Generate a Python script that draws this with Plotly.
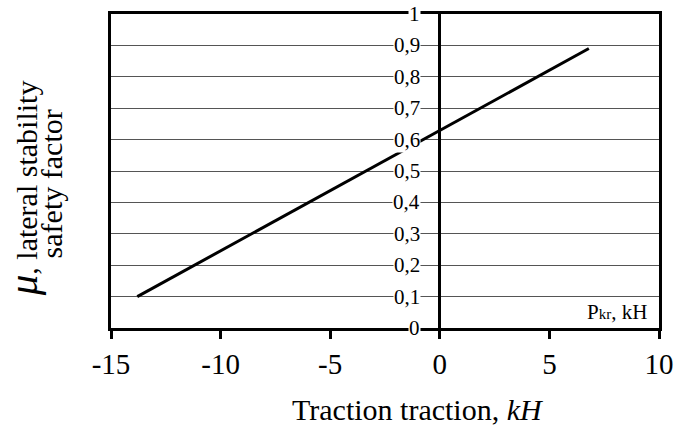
import plotly.graph_objects as go

# Data
line_x = [-13.8, 6.8]
line_y = [0.10, 0.89]
x_ticks = [-15, -10, -5, 0, 5, 10]
x_tick_labels = ["-15", "-10", "-5", "0", "5", "10"]
y_ticks = [0, 0.1, 0.2, 0.3, 0.4, 0.5, 0.6, 0.7, 0.8, 0.9, 1.0]
y_tick_labels = ["0", "0,1", "0,2", "0,3", "0,4", "0,5", "0,6", "0,7", "0,8", "0,9", "1"]
y_title_lines = ["<span style=\"font-size:41px\"><i>μ</i></span>, lateral stability",
                 "safety factor"]

FONT = "Liberation Serif"

fig = go.Figure()
fig.add_trace(go.Scatter(x=line_x, y=line_y, mode="lines",
                         line=dict(color="black", width=3), showlegend=False,
                         hoverinfo="skip"))

fig.update_layout(
    width=685, height=430,
    margin=dict(l=111, r=23, t=11, b=102),
    plot_bgcolor="white", paper_bgcolor="white",
    font=dict(family=FONT, color="black"),
    xaxis=dict(range=[-15, 10], tickvals=x_ticks, ticktext=x_tick_labels,
               ticks="outside", ticklen=8, tickwidth=3, tickcolor="black",
               showline=True, linecolor="black", linewidth=3, mirror=True,
               showgrid=False, zeroline=True, zerolinecolor="black",
               zerolinewidth=3, tickfont=dict(size=29, family=FONT),
               fixedrange=True),
    yaxis=dict(range=[0, 1], tickvals=y_ticks, showticklabels=False,
               showline=True, linecolor="black", linewidth=3, mirror=True,
               showgrid=True, gridcolor="#555555", gridwidth=1,
               zeroline=False, ticks="", fixedrange=True),
)

for v, t in zip(y_ticks, y_tick_labels):
    fig.add_annotation(x=0, y=v, xref="x", yref="y", text=t, showarrow=False,
                       xanchor="right", yanchor="middle", xshift=-19,
                       bgcolor="white", borderpad=0,
                       font=dict(size=21, family=FONT, color="black"))

fig.add_annotation(x=0.561, y=-0.26, xref="paper", yref="paper",
                   text="Traction traction, <i>kH</i>", showarrow=False,
                   xanchor="center", yanchor="middle",
                   font=dict(size=30, family=FONT, color="black"))

for xp, yp, t in zip([-0.160, -0.108], [0.446, 0.46], y_title_lines):
    fig.add_annotation(x=xp, y=yp, xref="paper", yref="paper", text=t,
                       showarrow=False, textangle=-90,
                       xanchor="center", yanchor="middle",
                       font=dict(size=30, family=FONT, color="black"))

fig.add_annotation(x=0.982, y=0.05, xref="paper", yref="paper",
                   text="P<span style=\"font-size:15px\">kr</span>, kH",
                   showarrow=False, xanchor="right", yanchor="middle",
                   font=dict(size=21, family=FONT, color="black"))

fig.write_html("out.html")
